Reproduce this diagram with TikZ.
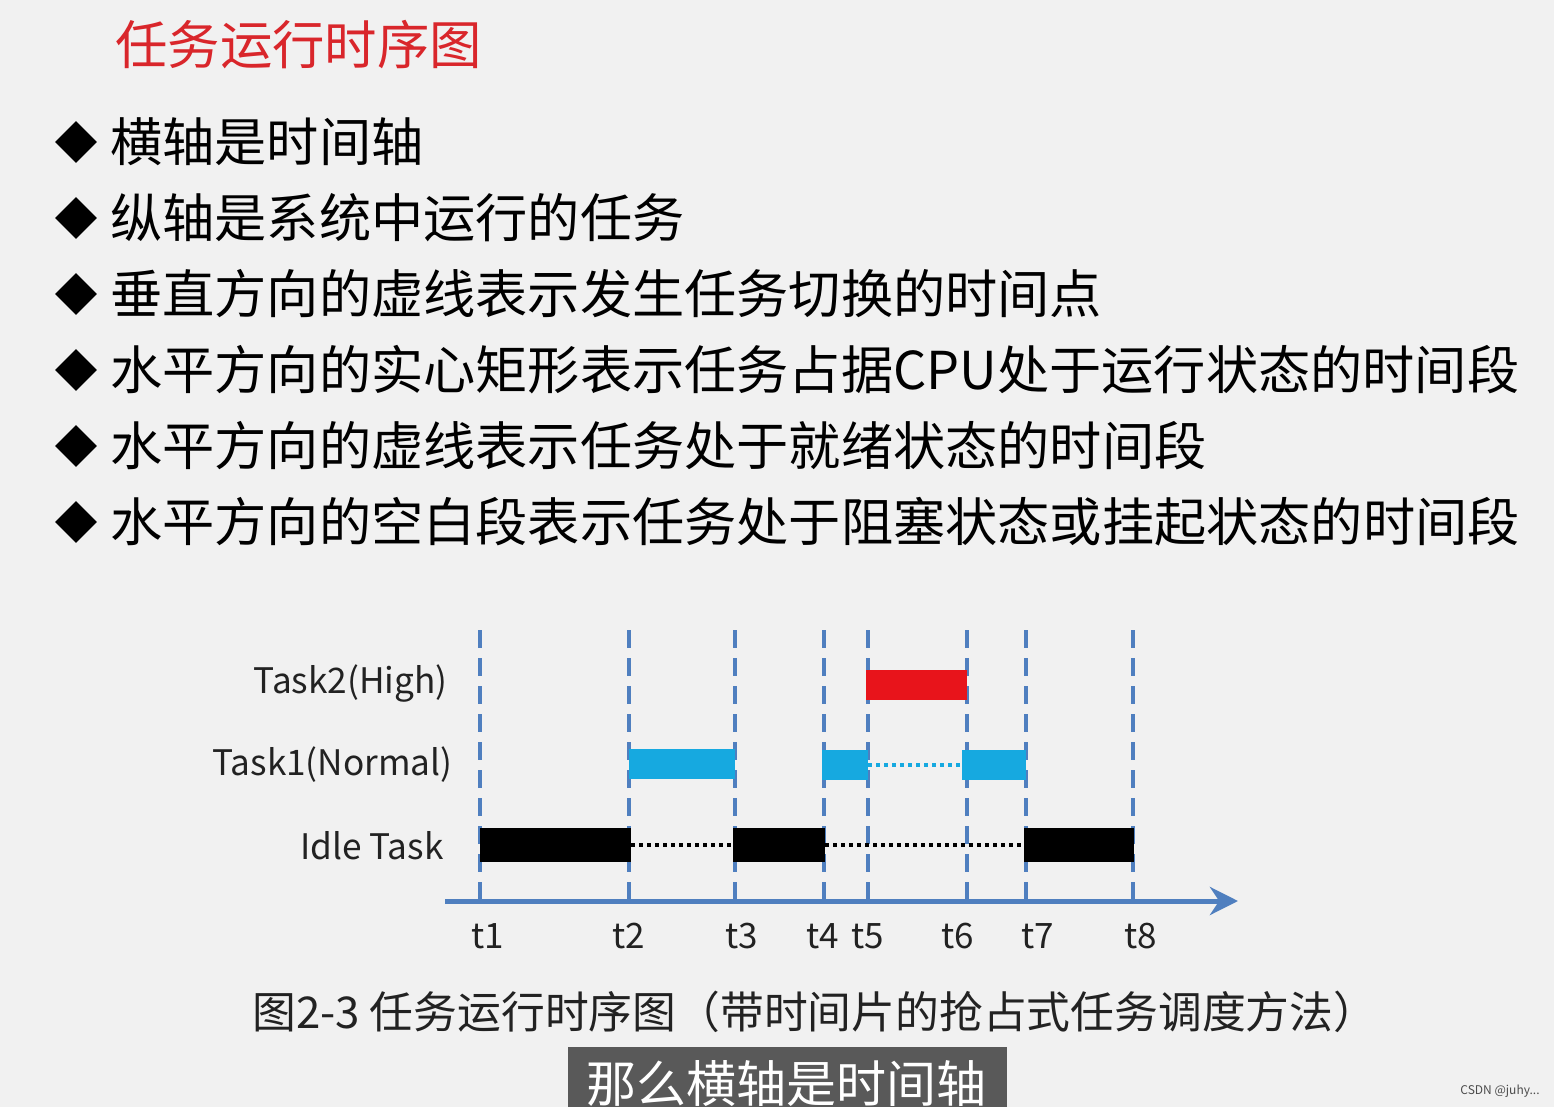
\documentclass[tikz,border=0pt]{standalone}
\usepackage{fontspec}
\setmainfont{Noto Sans CJK SC}
\usetikzlibrary{arrows.meta,shapes.geometric}
\definecolor{bg}{HTML}{F1F1F1}
\definecolor{ttl}{HTML}{D9262B}
\definecolor{axisb}{HTML}{4F7FBF}
\definecolor{cyanb}{HTML}{16A9E0}
\definecolor{redb}{HTML}{E8141B}
\definecolor{txt}{HTML}{222222}
\tikzset{
 bullet/.style={anchor=west,font=\fontsize{26.1}{26}\selectfont,text=black,inner sep=0},
 dia/.style={diamond,fill=black,minimum width=21pt,minimum height=21pt,inner sep=0},
 vline/.style={axisb,line width=1.6pt,dash pattern=on 9pt off 5pt},
 bar/.style={line width=15pt},
 tlab/.style={font=\fontsize{17.5}{17}\selectfont,text=txt,inner sep=0},
 task/.style={anchor=east,font=\fontsize{17.6}{17}\selectfont,text=txt,inner sep=0}
}
\begin{document}
\begin{tikzpicture}[x=0.5pt,y=-0.5pt]
\fill[bg] (0,0) rectangle (1554,1107);
\useasboundingbox (0,0) rectangle (1554,1107);
\node[anchor=west,inner sep=0,text=ttl,font=\fontsize{26.2}{26}\selectfont] (title) at (115,45) {任务运行时序图};
\foreach \y/\t [count=\i] in {142/横轴是时间轴,218/纵轴是系统中运行的任务,294/垂直方向的虚线表示发生任务切换的时间点,370/水平方向的实心矩形表示任务占据CPU处于运行状态的时间段,446/水平方向的虚线表示任务处于就绪状态的时间段,522/水平方向的空白段表示任务处于阻塞状态或挂起状态的时间段}{
 \node[dia] (d\i) at (76,\y) {};
 \node[bullet] (b\i) at (110,\y) {\t};
}
% axis
\coordinate (a0) at (445,901); \coordinate (a1) at (1238,901);
\draw[axisb,line width=2.5pt,-{Stealth[length=14pt,width=14pt]}] (a0) -- (a1);
\foreach \x/\l [count=\i] in {480/t1,629/t2,735/t3,824/t4,868/t5,967/t6,1026/t7,1133/t8}{
 \coordinate (top\i) at (\x,630); \coordinate (bot\i) at (\x,900);
 \draw[vline] (top\i) -- (bot\i);
}
\foreach \x/\l [count=\i] in {488/t1,629/t2,742/t3,823/t4,868/t5,958/t6,1038/t7,1141/t8}{
 \node[tlab] (lab\i) at (\x,936) {\l};
}
\node[task] (n2) at (448,684) {Task2(High)};
\node[task] (n1) at (453,765) {Task1(Normal)};
\node[task] (n0) at (444,846) {Idle Task};
% bars
\coordinate (r1) at (866,685); \coordinate (r2) at (967,685);
\draw[redb,bar] (r1) -- (r2);
\coordinate (c1) at (629,764); \coordinate (c2) at (735,764);
\coordinate (c3) at (822,765); \coordinate (c4) at (868,765);
\coordinate (c5) at (962,765); \coordinate (c6) at (1026,765);
\draw[cyanb,bar] (c1) -- (c2); \draw[cyanb,bar] (c3) -- (c4); \draw[cyanb,bar] (c5) -- (c6);
\draw[cyanb,line width=2pt,dotted] (c4) -- (c5);
\coordinate (k1) at (480,845); \coordinate (k2) at (631,845);
\coordinate (k3) at (733,845); \coordinate (k4) at (825,845);
\coordinate (k5) at (1024,845); \coordinate (k6) at (1134,845);
\draw[black,line width=17pt] (k1) -- (k2); \draw[black,line width=17pt] (k3) -- (k4); \draw[black,line width=17pt] (k5) -- (k6);
\draw[black,line width=2pt,dotted] (k2) -- (k3); \draw[black,line width=2pt,dotted] (k4) -- (k5);
\node[anchor=west,inner sep=0,text=txt,font=\fontsize{21.9}{22}\selectfont] (cap) at (252,1012) {图2-3 任务运行时序图（带时间片的抢占式任务调度方法）};
\fill[black!65] (568,1047) rectangle (1007,1107);
\node[inner sep=0,text=white,font=\fontsize{25}{25}\selectfont] (sub) at (786,1084) {那么横轴是时间轴};
\node[anchor=east,inner sep=0,text=black!70,font=\fontsize{6}{6}\selectfont] (wm) at (1540,1091) {CSDN @juhy...};
\end{tikzpicture}
\end{document}
